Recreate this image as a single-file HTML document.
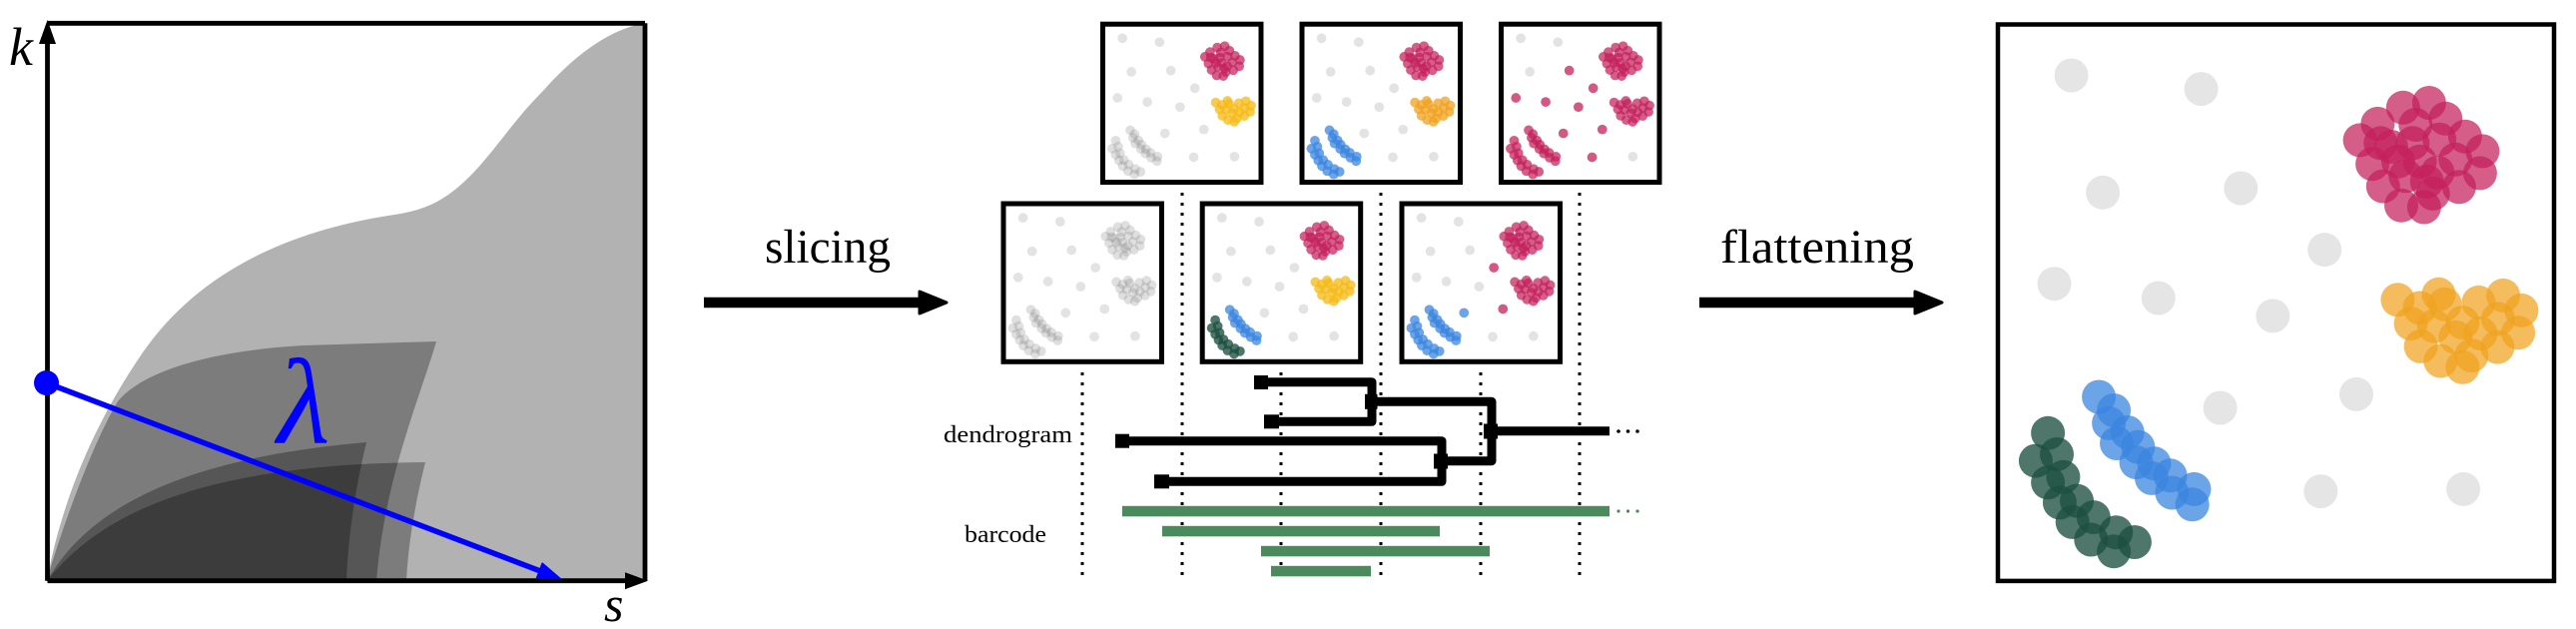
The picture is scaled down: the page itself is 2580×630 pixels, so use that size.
<!DOCTYPE html>
<html>
<head>
<meta charset="utf-8">
<style>
html,body{margin:0;padding:0;background:#fff;}
svg{display:block;}
text{font-family:"Liberation Serif","DejaVu Serif",serif;fill:#000;}
</style>
</head>
<body>
<svg width="2580" height="630" viewBox="0 0 2580 630" xmlns="http://www.w3.org/2000/svg">
<defs>
  <g id="nA">
    <circle cx="74.6" cy="51.5" r="17"/>
    <circle cx="204.6" cy="65.1" r="17"/>
    <circle cx="106.1" cy="168.8" r="17"/>
    <circle cx="467.1" cy="465.9" r="17"/>
  </g>
  <g id="nB">
    <circle cx="244.3" cy="164.5" r="17"/>
    <circle cx="57.5" cy="260.2" r="17"/>
    <circle cx="161.8" cy="274.5" r="17"/>
    <circle cx="276.4" cy="292.4" r="17"/>
    <circle cx="324.3" cy="468.1" r="17"/>
  </g>
  <g id="nC">
    <circle cx="328.2" cy="226.1" r="17"/>
    <circle cx="360" cy="370.9" r="17"/>
  </g>
  <g id="nD">
    <circle cx="223.6" cy="384.5" r="17"/>
  </g>
  <g id="pk">
    <circle cx="406.8" cy="83.8" r="17"/>
    <circle cx="432.9" cy="79" r="17"/>
    <circle cx="381.4" cy="99.9" r="17"/>
    <circle cx="449.3" cy="94.8" r="17"/>
    <circle cx="363.6" cy="116.4" r="17"/>
    <circle cx="468.9" cy="112.7" r="17"/>
    <circle cx="486.4" cy="127.4" r="17"/>
    <circle cx="376.1" cy="140.2" r="17"/>
    <circle cx="483.9" cy="149.4" r="17"/>
    <circle cx="386.8" cy="162.6" r="17"/>
    <circle cx="462.9" cy="163.3" r="17"/>
    <circle cx="405" cy="181.7" r="17"/>
    <circle cx="427.9" cy="183.5" r="17"/>
    <circle cx="436.8" cy="169.9" r="17"/>
    <circle cx="419.3" cy="101" r="17"/>
    <circle cx="443.2" cy="115.7" r="17"/>
    <circle cx="395" cy="123" r="17"/>
    <circle cx="423.6" cy="137.7" r="17"/>
    <circle cx="409.3" cy="152.3" r="17"/>
    <circle cx="441.4" cy="148.7" r="17"/>
    <circle cx="459.3" cy="135.8" r="17"/>
    <circle cx="384.3" cy="119.3" r="17"/>
    <circle cx="416.4" cy="119.3" r="17"/>
    <circle cx="430.7" cy="157.8" r="17"/>
    <circle cx="402" cy="137.7" r="17"/>
  </g>
  <g id="yl">
    <circle cx="401.4" cy="276.3" r="17"/>
    <circle cx="442.5" cy="270.8" r="17"/>
    <circle cx="423.6" cy="284.4" r="17"/>
    <circle cx="448.6" cy="280.7" r="17"/>
    <circle cx="482.5" cy="278.9" r="17"/>
    <circle cx="507.1" cy="271.9" r="17"/>
    <circle cx="525.4" cy="286.9" r="17"/>
    <circle cx="414.6" cy="300.1" r="17"/>
    <circle cx="437.9" cy="302.7" r="17"/>
    <circle cx="466.4" cy="299" r="17"/>
    <circle cx="502.1" cy="295.4" r="17"/>
    <circle cx="522.1" cy="309.3" r="17"/>
    <circle cx="424.6" cy="322.9" r="17"/>
    <circle cx="444.3" cy="337.5" r="17"/>
    <circle cx="466.4" cy="343.8" r="17"/>
    <circle cx="475.4" cy="332" r="17"/>
    <circle cx="501.4" cy="323.6" r="17"/>
    <circle cx="459.3" cy="313.7" r="17"/>
    <circle cx="484.3" cy="310" r="17"/>
  </g>
  <g id="bl">
    <circle cx="102.1" cy="373.5" r="17"/>
    <circle cx="117.1" cy="387" r="17"/>
    <circle cx="112.1" cy="399.9" r="17"/>
    <circle cx="130.7" cy="409" r="17"/>
    <circle cx="120" cy="420" r="17"/>
    <circle cx="141.4" cy="423.7" r="17"/>
    <circle cx="139.6" cy="439.1" r="17"/>
    <circle cx="157.5" cy="440.2" r="17"/>
    <circle cx="155" cy="454.9" r="17"/>
    <circle cx="173.6" cy="452.3" r="17"/>
    <circle cx="175.4" cy="469.5" r="17"/>
    <circle cx="197.5" cy="465.9" r="17"/>
    <circle cx="195.7" cy="481.3" r="17"/>
  </g>
  <g id="gr">
    <circle cx="51.1" cy="409.8" r="17"/>
    <circle cx="60" cy="431" r="17"/>
    <circle cx="38.9" cy="437.6" r="17"/>
    <circle cx="66.4" cy="453.8" r="17"/>
    <circle cx="51.1" cy="459.3" r="17"/>
    <circle cx="80" cy="477.6" r="17"/>
    <circle cx="62.9" cy="479.4" r="17"/>
    <circle cx="96.8" cy="494.1" r="17"/>
    <circle cx="75.7" cy="498.9" r="17"/>
    <circle cx="119.3" cy="509.2" r="17"/>
    <circle cx="94.3" cy="516.5" r="17"/>
    <circle cx="137.9" cy="519" r="17"/>
    <circle cx="117.1" cy="528.2" r="17"/>
  </g>
</defs>

<!-- ================= LEFT PLOT ================= -->
<g fill="#000" fill-opacity="0.3" stroke="none">
  <path d="M47,582 C60,510 90,430 143,353 C195,278 280,232 395,215 C430,210 450,198 475,172 C500,145 515,120 543,92 C580,50 615,28 647,23 L647,582 Z"/>
  <path d="M47,582 C58,540 92,445 118,402 C140,375 200,352 304,346 L437,342 C420,400 385,480 377,582 Z"/>
  <path d="M47,582 C85,515 170,460 367,443 C358,480 349,530 347,582 Z"/>
  <path d="M47,582 C100,515 200,465 426,463 C418,495 409,540 407,582 Z"/>
</g>
<g stroke="#000" stroke-width="4.8" fill="none">
  <line x1="47.5" y1="23.3" x2="646" y2="23.3"/>
  <line x1="646" y1="23.3" x2="646" y2="581.7"/>
  <line x1="47.5" y1="581.7" x2="630" y2="581.7"/>
  <line x1="47.5" y1="581.7" x2="47.5" y2="40"/>
</g>
<polygon points="47.5,20 39,44 56,44" fill="#000"/>
<polygon points="649,581.7 626,573.2 626,590.2" fill="#000"/>
<text x="9" y="65" font-size="54" font-style="italic">k</text>
<text x="605" y="622" font-size="50" font-style="italic">s</text>
<line x1="46.5" y1="383.5" x2="542" y2="572.3" stroke="#0000ff" stroke-width="5.5"/>
<polygon points="561,579.5 537.5,579.2 543.2,564.2" fill="#0000ff" stroke="#0000ff" stroke-width="1.5" stroke-linejoin="round"/>
<circle cx="46.5" cy="383.5" r="12.5" fill="#0000ff"/>
<text x="304" y="444" font-size="122" font-style="italic" text-anchor="middle" style="fill:#0000ff">λ</text>

<!-- ================= ARROWS ================= -->
<text x="766" y="263" font-size="48" textLength="126" lengthAdjust="spacingAndGlyphs">slicing</text>
<line x1="705" y1="303" x2="926" y2="303" stroke="#000" stroke-width="10.5"/>
<polygon points="948,303 921,292 921,314" fill="#000" stroke="#000" stroke-width="3" stroke-linejoin="round"/>

<text x="1723" y="263" font-size="48" textLength="194" lengthAdjust="spacingAndGlyphs">flattening</text>
<line x1="1702" y1="303" x2="1922" y2="303" stroke="#000" stroke-width="10.5"/>
<polygon points="1945,303 1918,292 1918,314" fill="#000" stroke="#000" stroke-width="3" stroke-linejoin="round"/>

<!-- ================= DOTTED LINES ================= -->
<g stroke="#000" stroke-width="3" stroke-dasharray="3 7">
  <line x1="1184" y1="193" x2="1184" y2="577"/>
  <line x1="1383" y1="193" x2="1383" y2="577"/>
  <line x1="1582" y1="193" x2="1582" y2="577"/>
  <line x1="1084" y1="373" x2="1084" y2="577"/>
  <line x1="1283" y1="373" x2="1283" y2="577"/>
  <line x1="1483" y1="373" x2="1483" y2="577"/>
</g>

<!-- ================= SMALL BOXES ================= -->
<g transform="translate(1102.8,23.6) scale(0.286)">
  <use href="#nA" fill="#e3e3e3"/><use href="#nB" fill="#e3e3e3"/><use href="#nC" fill="#e3e3e3"/><use href="#nD" fill="#e3e3e3"/>
  <use href="#pk" fill="#c4205a" fill-opacity="0.72"/>
  <use href="#yl" fill="#f5ba14" fill-opacity="0.75"/>
  <use href="#bl" fill="#808080" fill-opacity="0.25"/>
  <use href="#gr" fill="#808080" fill-opacity="0.25"/>
</g>
<rect x="1104.5" y="24.2" width="158.5" height="158.3" fill="none" stroke="#000" stroke-width="5"/>
<g transform="translate(1302.3,23.6) scale(0.286)">
  <use href="#nA" fill="#e3e3e3"/><use href="#nB" fill="#e3e3e3"/><use href="#nC" fill="#e3e3e3"/><use href="#nD" fill="#e3e3e3"/>
  <use href="#pk" fill="#c4205a" fill-opacity="0.72"/>
  <use href="#yl" fill="#f0a21e" fill-opacity="0.75"/>
  <use href="#bl" fill="#3b86e0" fill-opacity="0.75"/>
  <use href="#gr" fill="#3b86e0" fill-opacity="0.75"/>
</g>
<rect x="1304" y="24.2" width="158.5" height="158.3" fill="none" stroke="#000" stroke-width="5"/>
<g transform="translate(1501.8,23.6) scale(0.286)">
  <use href="#nA" fill="#e3e3e3"/>
  <use href="#nB" fill="#c4205a" fill-opacity="0.75"/><use href="#nC" fill="#c4205a" fill-opacity="0.75"/><use href="#nD" fill="#c4205a" fill-opacity="0.75"/>
  <use href="#pk" fill="#c4205a" fill-opacity="0.72"/>
  <use href="#yl" fill="#c4205a" fill-opacity="0.72"/>
  <use href="#bl" fill="#c4205a" fill-opacity="0.72"/>
  <use href="#gr" fill="#c4205a" fill-opacity="0.72"/>
</g>
<rect x="1503.5" y="24.2" width="158.5" height="158.3" fill="none" stroke="#000" stroke-width="5"/>
<g transform="translate(1003.3,203.4) scale(0.286)">
  <use href="#nA" fill="#e3e3e3"/><use href="#nB" fill="#e3e3e3"/><use href="#nC" fill="#e3e3e3"/><use href="#nD" fill="#e3e3e3"/>
  <use href="#pk" fill="#808080" fill-opacity="0.25"/>
  <use href="#yl" fill="#808080" fill-opacity="0.25"/>
  <use href="#bl" fill="#808080" fill-opacity="0.25"/>
  <use href="#gr" fill="#808080" fill-opacity="0.25"/>
</g>
<rect x="1005" y="204" width="158.5" height="158.3" fill="none" stroke="#000" stroke-width="5"/>
<g transform="translate(1202.5,203.4) scale(0.286)">
  <use href="#nA" fill="#e3e3e3"/><use href="#nB" fill="#e3e3e3"/><use href="#nC" fill="#e3e3e3"/><use href="#nD" fill="#e3e3e3"/>
  <use href="#pk" fill="#c4205a" fill-opacity="0.72"/>
  <use href="#yl" fill="#f5ba14" fill-opacity="0.75"/>
  <use href="#bl" fill="#3b86e0" fill-opacity="0.75"/>
  <use href="#gr" fill="#1d5041" fill-opacity="0.78"/>
</g>
<rect x="1204.2" y="204" width="158.5" height="158.3" fill="none" stroke="#000" stroke-width="5"/>
<g transform="translate(1402.3,203.4) scale(0.286)">
  <use href="#nA" fill="#e3e3e3"/><use href="#nB" fill="#e3e3e3"/>
  <use href="#nC" fill="#c4205a" fill-opacity="0.75"/>
  <use href="#nD" fill="#3b86e0" fill-opacity="0.75"/>
  <use href="#pk" fill="#c4205a" fill-opacity="0.72"/>
  <use href="#yl" fill="#c4205a" fill-opacity="0.72"/>
  <use href="#bl" fill="#3b86e0" fill-opacity="0.75"/>
  <use href="#gr" fill="#3b86e0" fill-opacity="0.75"/>
</g>
<rect x="1404" y="204" width="158.5" height="158.3" fill="none" stroke="#000" stroke-width="5"/>

<!-- ================= DENDROGRAM ================= -->
<text x="945" y="443" font-size="24" textLength="129" lengthAdjust="spacingAndGlyphs">dendrogram</text>
<g stroke="#000" stroke-width="9" fill="none" stroke-linejoin="round">
  <path d="M1263,382.7 H1374 V422.3 H1274"/>
  <path d="M1374,402.3 H1494 V461.7 H1444"/>
  <path d="M1124,441.7 H1444 V482.3 H1163"/>
  <path d="M1494,431.7 H1612"/>
</g>
<g fill="#000">
  <rect x="1256" y="376" width="14" height="14"/>
  <rect x="1266" y="415.3" width="15" height="14"/>
  <rect x="1117" y="434.7" width="14" height="14"/>
  <rect x="1156" y="475.3" width="15" height="14"/>
  <rect x="1367" y="394.8" width="12.5" height="15"/>
  <rect x="1436" y="454.5" width="14" height="15"/>
  <rect x="1486" y="424.5" width="14" height="15"/>
  <circle cx="1621" cy="432" r="1.8"/>
  <circle cx="1630.5" cy="432" r="1.8"/>
  <circle cx="1640" cy="432" r="1.8"/>
</g>

<!-- ================= BARCODE ================= -->
<text x="966" y="543" font-size="24" textLength="82" lengthAdjust="spacingAndGlyphs">barcode</text>
<g fill="#4b8a5d">
  <rect x="1124" y="506.8" width="488" height="10.5"/>
  <rect x="1164" y="526.8" width="278" height="10.5"/>
  <rect x="1263" y="546.8" width="229" height="10.5"/>
  <rect x="1273" y="566.8" width="100" height="10.5"/>
  <circle cx="1621" cy="512" r="1.6"/>
  <circle cx="1630.5" cy="512" r="1.6"/>
  <circle cx="1640" cy="512" r="1.6"/>
</g>

<!-- ================= RIGHT PANEL ================= -->
<g transform="translate(2000,24)">
  <use href="#nA" fill="#e5e5e5"/><use href="#nB" fill="#e5e5e5"/><use href="#nC" fill="#e5e5e5"/><use href="#nD" fill="#e5e5e5"/>
  <use href="#pk" fill="#c4205a" fill-opacity="0.72"/>
  <use href="#yl" fill="#f0a21e" fill-opacity="0.72"/>
  <use href="#bl" fill="#3b86e0" fill-opacity="0.75"/>
  <use href="#gr" fill="#1d5041" fill-opacity="0.78"/>
</g>
<rect x="2001" y="24.5" width="557" height="557.4" fill="none" stroke="#000" stroke-width="4.5"/>
</svg>
</body>
</html>
